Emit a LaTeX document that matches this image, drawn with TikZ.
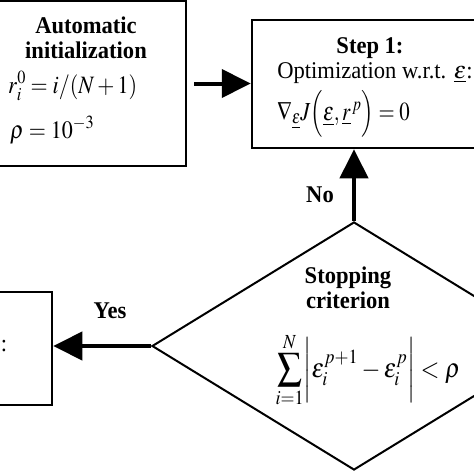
\documentclass[tikz,border=0pt]{standalone}
\usepackage{graphicx}
\usepackage{mathptmx}
\usepackage{fontspec}
\setmainfont{Liberation Serif}[FakeStretch=0.94]
\usetikzlibrary{shapes.geometric,arrows.meta}

% formula set at a given size and squeezed horizontally
\newcommand{\fml}[3]{{\fontsize{#1}{#1}\selectfont\scalebox{#2}[1]{$#3$}}}

\begin{document}
\begin{tikzpicture}[x=1pt,y=-1pt,
  box/.style={draw, rectangle, line width=2.5pt, inner sep=0pt},
  decision/.style={draw, diamond, line width=2pt, inner sep=0pt},
  arr/.style={line width=4pt, -{Triangle[length=29pt,width=28pt]}},
  txt/.style={inner sep=0pt, anchor=base, font=\fontsize{24}{28}\selectfont},
  head/.style={txt, font=\fontsize{24}{28}\selectfont\bfseries}]
\useasboundingbox (0,0) rectangle (474,474);

% blocks
\node[box, minimum width=200pt, minimum height=165pt] (init) at (86,83.5) {};
\node[box, minimum width=236pt, minimum height=128pt] (step1) at (370,84) {};
\node[decision, minimum width=404pt, minimum height=248pt] (crit) at (354,346) {};
\node[box, minimum width=150pt, minimum height=113pt] (stop) at (-23,348.5) {};

% initialization text
\node[head] (initA) at (86,33) {Automatic};
\node[head] (initB) at (86,58) {initialization};
\node[txt, anchor=base west] (initC) at (8,93) {\fml{25}{0.88}{r_i^{0} = i/(N+1)}};
\node[txt, anchor=base west] (initD) at (10,138) {\fml{25}{0.88}{\rho = 10^{-3}}};

% step 1 text
\node[head] (s1A) at (370,53) {Step 1:};
\node[txt] (s1B) at (375,78) {Optimization w.r.t. $\underline{\varepsilon}$:};
\node[txt, anchor=base west] (s1C) at (277,120)
  {\fml{26}{0.8}{\nabla_{\underline{\varepsilon}} J\Bigl(\underline{\varepsilon}, \underline{r}^{\,p}\Bigr) = 0}};

% stopping criterion text
\node[head] (cA) at (348,283) {Stopping};
\node[head] (cB) at (348,308) {criterion};
\node[txt] (cC) at (368,377)
  {\fml{27}{0.9}{\displaystyle\sum_{i=1}^{N} \biggl|\varepsilon_i^{p+1} - \varepsilon_i^{p}\biggr| < \rho}};

% truncated block on the left
\node[txt] (stopT) at (4,351) {:};

% connectors
\draw[arr] ([xshift=7pt]init.east) -- (init.east -| step1.west);
\draw[arr] (crit.north) -- (crit.north |- step1.south);
\draw[arr] (crit.west) -- (crit.west -| stop.east);

% connector labels
\node[head] (no) at (320,202) {No};
\node[head] (yes) at (110,318) {Yes};
\end{tikzpicture}
\end{document}
